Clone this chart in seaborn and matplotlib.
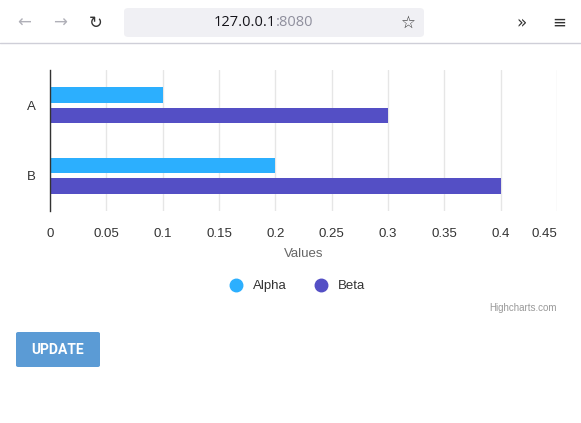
import matplotlib
matplotlib.use("Agg")
import matplotlib.pyplot as plt
from matplotlib.lines import Line2D
from matplotlib.patches import FancyBboxPatch
from matplotlib.text import Annotation
import seaborn as sns
import pandas as pd

categories = ["A", "B"]
series_names = ["Alpha", "Beta"]
alpha_values = [0.1, 0.2]
beta_values = [0.3, 0.4]
x_ticks = [0, 0.05, 0.1, 0.15, 0.2, 0.25, 0.3, 0.35, 0.4, 0.45]
x_tick_labels = ["0", "0.05", "0.1", "0.15", "0.2", "0.25", "0.3", "0.35", "0.4", "0.45"]
colors = ["#2caffe", "#544fc5"]

df = pd.DataFrame({
    "category": categories * 2,
    "series": [series_names[0]] * 2 + [series_names[1]] * 2,
    "value": alpha_values + beta_values,
})

sns.set_theme(style="white")
plt.rcParams["font.family"] = ["Liberation Sans", "DejaVu Sans"]

W, H = 581, 423
fig = plt.figure(figsize=(W / 100, H / 100), dpi=100)
fig.patch.set_facecolor("white")

def fx(x):
    return x / W

def fy(y):
    return 1 - y / H

# browser toolbar approximation
fig.add_artist(Line2D([0, 1], [fy(43.5), fy(43.5)], transform=fig.transFigure,
                      color="#cfcfd8", lw=1))
fig.patches.append(FancyBboxPatch((fx(124), fy(37)), 300 / W, 29 / H,
                                  boxstyle="round,pad=0,rounding_size=0.008",
                                  transform=fig.transFigure, facecolor="#f0f0f4",
                                  edgecolor="none", zorder=1))
url = fig.text(fx(214), fy(23), "127.0.0.1", fontsize=10.5, color="#15141a",
               va="center", ha="left", family=["Open Sans", "DejaVu Sans"])
fig.add_artist(Annotation(":8080", xy=(1, 0.5), xycoords=url, va="center",
                          ha="left", fontsize=10.5, color="#8f8f9d",
                          family=["Open Sans", "DejaVu Sans"]))
for x, s, c in [(24, "\u2190", "#b0b0b8"), (60, "\u2192", "#b0b0b8"), (96, "\u21bb", "#333333"),
                (408, "\u2606", "#333333"), (522, "\u00bb", "#333333"), (559, "\u2261", "#333333")]:
    fig.text(fx(x), fy(23), s, fontsize=12, color=c, va="center", ha="center",
             family=["DejaVu Sans"])

# chart
ax = fig.add_axes([fx(50), fy(211), (557 - 50) / W, (211 - 70) / H])
sns.barplot(data=df, y="category", x="value", hue="series", orient="h",
            palette=colors, width=0.58, gap=0.24, ax=ax, legend=False,
            saturation=1, edgecolor="none")
ax.set_xlim(0, 0.45)
ax.set_ylim(1.5, -0.5)
ax.set_xticks(x_ticks)
ax.set_xticklabels(x_tick_labels)
ax.get_xticklabels()[-1].set_horizontalalignment("right")
ax.grid(axis="x", color="#e6e6e6", lw=1)
ax.set_axisbelow(True)
for s in ["top", "right", "bottom"]:
    ax.spines[s].set_visible(False)
ax.spines["left"].set_color("#333333")
ax.spines["left"].set_linewidth(1)
ax.tick_params(axis="x", length=0, pad=12, labelsize=9.5, labelcolor="#333333")
ax.tick_params(axis="y", length=0, pad=10.5, labelsize=9.5, labelcolor="#333333")
ax.set_xlabel("Values", fontsize=9.5, color="#666666", labelpad=6)
ax.set_ylabel("")

handles = [Line2D([], [], marker="o", ls="none", markersize=9, color=c) for c in colors]
fig.legend(handles, series_names, loc="center", bbox_to_anchor=(fx(294), fy(286)),
           ncol=2, frameon=False, fontsize=9.5, handletextpad=0.3, columnspacing=1.6,
           labelcolor="#333333")

fig.text(fx(557), fy(308), "Highcharts.com", fontsize=7, color="#999999",
         ha="right", va="center")

# button
fig.patches.append(FancyBboxPatch((fx(16), fy(367)), 84 / W, 35 / H,
                                  boxstyle="round,pad=0,rounding_size=0.004",
                                  transform=fig.transFigure, facecolor="#5b9bd5",
                                  edgecolor="none", zorder=1))
fig.text(fx(58), fy(349.5), "UPDATE", fontsize=10, color="white", weight="bold",
         ha="center", va="center", family=["Roboto", "DejaVu Sans"])

fig.savefig("out.png", dpi=100)
